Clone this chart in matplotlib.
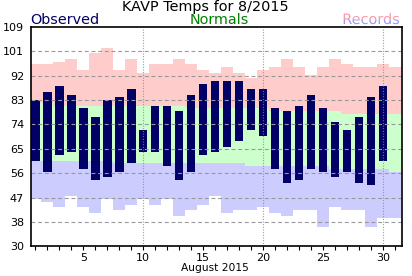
import numpy as np
import matplotlib
matplotlib.use('Agg')
import matplotlib.pyplot as plt
from matplotlib.transforms import Bbox, Affine2D
from matplotlib.textpath import TextPath
from matplotlib.patches import PathPatch
from matplotlib.font_manager import FontProperties

# daily data for KAVP, August 2015 (deg F)
days = np.arange(1, 32)
obs_high = [83, 86, 88, 85, 80, 77, 83, 84, 87, 72, 81, 81, 79, 85, 89,
            90, 90, 90, 87, 87, 80, 79, 81, 85, 80, 75, 72, 77, 84, 88]
obs_low = [61, 57, 63, 64, 58, 54, 55, 57, 60, 64, 64, 59, 54, 57, 63,
           64, 66, 68, 72, 70, 58, 53, 54, 58, 57, 55, 57, 53, 52, 61]
norm_high = [82, 82, 81, 81, 81, 81, 81, 81, 81, 81, 81, 81, 81, 80, 80, 80,
             80, 80, 80, 80, 79, 79, 79, 79, 79, 79, 78, 78, 78, 78, 78]
norm_low = [61, 61, 61, 61, 61, 61, 61, 60, 60, 60, 60, 60, 60, 60, 60, 60,
            60, 60, 59, 59, 59, 59, 59, 59, 59, 58, 58, 58, 58, 58, 57]
rec_high = [96, 96, 97, 98, 94, 100, 102, 94, 98, 93, 96, 96, 98, 96, 94, 93,
            95, 93, 91, 94, 95, 98, 95, 92, 95, 98, 96, 95, 95, 96, 95]
rec_low = [47, 46, 44, 48, 44, 42, 47, 43, 45, 47, 45, 47, 41, 43, 45, 48,
           42, 43, 43, 44, 42, 41, 43, 43, 37, 44, 43, 43, 37, 40, 40]
y_labels = ['30', '38', '47', '56', '65', '74', '83', '92', '101', '109']
x_labels = ['5', '10', '15', '20', '25', '30']

W, H = 412, 276
fig = plt.figure(figsize=(W / 100, H / 100), dpi=100)
ax = fig.add_axes([30.7 / W, 1 - 246.3 / H, (402 - 30.7) / W, (246.3 - 26.7) / H])

y_lo, y_hi = 29.85, 109.73

# step background: records and normals, each day fills a full day slot
edges = np.append(days - 0.5, days[-1] + 0.5)


def stepped(vals):
    return np.append(vals, vals[-1])


ax.fill_between(edges, stepped(norm_high), stepped(rec_high), step='post',
                color='#ffcccc', lw=0, zorder=1)
ax.fill_between(edges, stepped(norm_low), stepped(norm_high), step='post',
                color='#ccffcc', lw=0, zorder=1)
ax.fill_between(edges, stepped(rec_low), stepped(norm_low), step='post',
                color='#ccccff', lw=0, zorder=1)

# observed bars
obs_days = days[:len(obs_high)]
hi = np.array(obs_high)
lo = np.array(obs_low)
ax.bar(obs_days, hi - lo, bottom=lo, width=0.7, color='#000066', lw=0, zorder=2)

# grid lines on top of everything
yt = np.linspace(y_lo, y_hi, len(y_labels))
for y in yt[1:-1]:
    ax.axhline(y, color='#999999', lw=0.8, dashes=(3.5, 2.5), zorder=3)
for x in [10, 20, 30]:
    ax.axvline(x, color='#888888', lw=0.8, dashes=(0.8, 1.6), zorder=3)

ax.set_xlim(0.6, 31.6)
ax.set_ylim(y_lo, y_hi)
ax.set_yticks(yt)
ax.set_yticklabels(y_labels, fontsize=8)
ax.set_xticks(days)
ax.set_xticklabels([str(d) if str(d) in x_labels else '' for d in days], fontsize=8)
ax.tick_params(axis='y', length=0, pad=4.8)
ax.tick_params(axis='x', length=3, width=0.8, pad=2, direction='out')
for s in ax.spines.values():
    s.set_linewidth(1.2)
    s.set_zorder(4)


def ftext(x, y, s, **kw):
    return fig.text(x / W, 1 - y / H, s, **kw)


ftext(205.5, 11.5, 'KAVP Temps for 8/2015', fontsize=10.4, ha='center', va='baseline')
ftext(30, 23.5, 'Observed', fontsize=10.4, color='#000066', va='baseline')
ftext(219, 24, 'Normals', fontsize=10.4, color='#008000', ha='center', va='baseline')

# "Records" fades from pink (top) to lavender (bottom): two clipped copies of the glyph outline
tp = TextPath((0, 0), 'Records', size=10.4 * 100 / 72, prop=FontProperties(family='DejaVu Sans'))
ext = tp.get_extents()
place = Affine2D().translate(399 - ext.x1, H - 24)
split = H - 19.5
for col, box in [('#ff99aa', Bbox([[300, split], [W, H]])),
                 ('#9999ff', Bbox([[300, 0], [W, split]]))]:
    p = PathPatch(tp, facecolor=col, edgecolor='none', transform=place)
    p.set_clip_box(box)
    fig.add_artist(p)

ftext(215, 271, 'August 2015', fontsize=7.7, ha='center', va='baseline')

fig.savefig('out.png', dpi=100)
